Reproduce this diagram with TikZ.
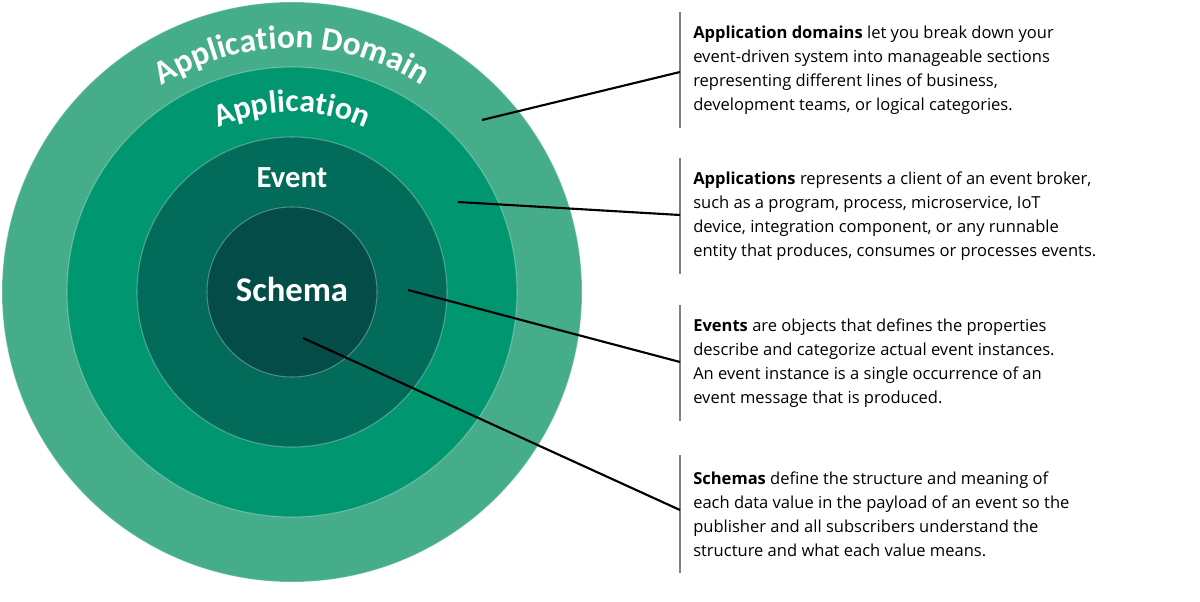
\documentclass[tikz,border=0pt]{standalone}
\usepackage{fontspec}
\setmainfont{Open Sans}
\newfontfamily\ringfont{Carlito}
\usetikzlibrary{calc, decorations.text}

\definecolor{domaingreen}{HTML}{46AD8A}
\definecolor{appgreen}{HTML}{009670}
\definecolor{eventgreen}{HTML}{036B5A}
\definecolor{schemagreen}{HTML}{034C47}
\definecolor{bargray}{HTML}{808080}

\begin{document}
\begin{tikzpicture}[
    x=0.75pt, y=0.75pt, % one unit is one pixel of the reference
    ring/.style={draw=white, draw opacity=0.3, line width=0.8pt}, % Style for the nested circles
    ringlabel/.style={text=white, font=\ringfont\bfseries\fontsize{23}{23}\selectfont}, % Style for straight ring labels
    pointer/.style={-, line width=1.6pt, black}, % Style for the leader lines
    sidebar/.style={-, line width=1.5pt, bargray}, % Style for the gray bars
    infotext/.style={anchor=west, align=left, inner sep=0pt, font=\fontsize{12.4}{18}\selectfont} % Style for the text blocks
  ]
  \useasboundingbox (0,0) rectangle (1200,601);

  % --- Nested circles ---
  \coordinate (center) at (292,309);
  \fill[domaingreen, ring] (center) circle (290);
  \fill[appgreen, ring] (center) circle (225);
  \fill[eventgreen, ring] (center) circle (155);
  \fill[schemagreen, ring] (center) circle (85);

  % --- Ring labels ---
  \path[decorate, decoration={text along path, text align=center, text color=white,
      text={|\ringfont\bfseries\fontsize{25}{25}\selectfont|Application Domain}}]
    ($(center)+(-244,0)$) arc[start angle=180, end angle=0, radius=244];
  \path[decorate, decoration={text along path, text align=center, text color=white,
      text={|\ringfont\bfseries\fontsize{24}{24}\selectfont|Application}}]
    ($(center)+(-180,0)$) arc[start angle=180, end angle=0, radius=180];
  \node[ringlabel, anchor=base] (eventlabel) at (292,413) {Event};
  \node[ringlabel, anchor=base, font=\ringfont\bfseries\fontsize{26}{26}\selectfont] (schemalabel) at (292,300) {Schema};

  % --- Text blocks ---
  \node[infotext] (domaintext) at (693,531) {\textbf{Application domains} let you break down your\\event-driven system into manageable sections\\representing different lines of business,\\development teams, or logical categories.};
  \node[infotext] (apptext) at (693,385) {\textbf{Applications} represents a client of an event broker,\\such as a program, process, microservice, IoT\\device, integration component, or any runnable\\entity that produces, consumes or processes events.};
  \node[infotext] (eventtext) at (693,238) {\textbf{Events} are objects that defines the properties\\describe and categorize actual event instances.\\An event instance is a single occurrence of an\\event message that is produced.};
  \node[infotext] (schematext) at (693,87) {\textbf{Schemas} define the structure and meaning of\\each data value in the payload of an event so the\\publisher and all subscribers understand the\\structure and what each value means.};

  % --- Gray bars ---
  \draw[sidebar] (680,589) -- (680,473);
  \draw[sidebar] (680,443) -- (680,327);
  \draw[sidebar] (680,296) -- (680,180);
  \draw[sidebar] (680,146) -- (680,28);

  % --- Leader lines ---
  \coordinate (domainpt) at (482,481);
  \coordinate (apppt) at (458,399);
  \coordinate (eventpt) at (408,311);
  \coordinate (schemapt) at (303,263);
  \coordinate (domainend) at (680,529);
  \coordinate (append) at (680,386);
  \coordinate (eventend) at (680,239);
  \coordinate (schemaend) at (680,91);
  \draw[pointer] (domainpt) -- (domainend);
  \draw[pointer] (apppt) -- (append);
  \draw[pointer] (eventpt) -- (eventend);
  \draw[pointer] (schemapt) -- (schemaend);

\end{tikzpicture}
\end{document}
